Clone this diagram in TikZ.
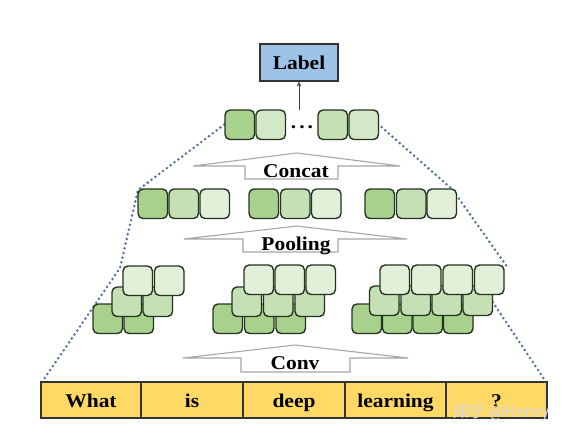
\documentclass[tikz,border=0pt]{standalone}
\usepackage{fontspec}
\setmainfont{Liberation Serif}[FakeStretch=1.1]
\newfontfamily\cjkfont{Noto Sans CJK SC}
\usetikzlibrary{arrows.meta}
\definecolor{gA}{HTML}{A9D18E}
\definecolor{gB}{HTML}{C5E0B4}
\definecolor{gC}{HTML}{E2F0D9}
\definecolor{gBC}{HTML}{D3E8C6}
\definecolor{sqline}{HTML}{24331F}
\definecolor{dotblue}{HTML}{4F6F98}
\definecolor{arrgray}{HTML}{A6A6A6}
\definecolor{wordfill}{HTML}{FFD966}
\definecolor{labelfill}{HTML}{9DC3E6}
\newcommand\mysq[4]{\node[sq,fill=#4] (#1) at (#2+14.75,#3+14.75) {};}
\begin{document}
\begin{tikzpicture}[x=1pt,y=-1pt,
  sq/.style={draw=sqline, line width=1.4pt, rounded corners=5pt, minimum width=29.5pt, minimum height=29.5pt, inner sep=0pt, outer sep=0pt},
  bigtxt/.style={font=\fontsize{19.5}{20}\selectfont\bfseries},
  wordcell/.style={draw=black!80, line width=1.2pt, fill=wordfill, minimum height=36pt, inner sep=0pt, outer sep=0pt, text height=14pt, text depth=0pt, bigtxt},
  fatarrow/.style={draw=arrgray, line width=1.1pt, fill=white, line join=miter},
  dotline/.style={draw=dotblue, line width=2.8pt, line cap=round, dash pattern=on 0pt off 4.8pt}
]
\useasboundingbox (0,0) rectangle (573,440);

% dotted outline (behind everything)
\coordinate (dl0) at (42,382);
\coordinate (dl1) at (120,268);
\coordinate (dl2) at (138,190);
\coordinate (dl3) at (225,124);
\coordinate (dr3) at (378,124);
\coordinate (dr2) at (452,189);
\coordinate (dr1) at (508,268);
\coordinate (dr1b) at (482,286);
\coordinate (dr0) at (546,382);
\draw[dotline] (dl0) -- (dl1) -- (dl2) -- (dl3);
\draw[dotline] (dr3) -- (dr2) -- (dr1);
\draw[dotline] (dr0) -- (dr1b);

% fat arrows
\draw[fatarrow] (193,166) -- (297,153) -- (400,166) -- (338,166) -- (338,179) -- (245,179) -- (245,166) -- cycle;
\draw[fatarrow] (184,239) -- (297,226) -- (407,239) -- (338,239) -- (338,252) -- (243,252) -- (243,239) -- cycle;
\draw[fatarrow] (183,358) -- (295,345) -- (408,358) -- (350,358) -- (350,372) -- (241,372) -- (241,358) -- cycle;
\node[bigtxt, anchor=base] (tconcat) at (296,177) {Concat};
\node[bigtxt, anchor=base] (tpool) at (296,250) {Pooling};
\node[bigtxt, anchor=base] (tconv) at (295,369) {Conv};

% conv feature maps: left group
\mysq{cl1}{93}{304}{gA}  \mysq{cl2}{124}{304}{gA}
\mysq{cl3}{112}{287}{gB} \mysq{cl4}{143}{287}{gB}
\mysq{cl5}{123}{266}{gC} \mysq{cl6}{154.5}{266}{gC}
% middle group
\mysq{cm1}{213}{304}{gA} \mysq{cm2}{244.5}{304}{gA} \mysq{cm3}{276}{304}{gA}
\mysq{cm4}{232}{287}{gB} \mysq{cm5}{263.5}{287}{gB} \mysq{cm6}{295}{287}{gB}
\mysq{cm7}{244}{265}{gC} \mysq{cm8}{275}{265}{gC} \mysq{cm9}{306}{265}{gC}
% right group
\mysq{cr1}{352}{304}{gA} \mysq{cr2}{382.5}{304}{gA} \mysq{cr3}{413}{304}{gA} \mysq{cr4}{443.5}{304}{gA}
\mysq{cr5}{369.5}{286}{gB} \mysq{cr6}{401}{286}{gB} \mysq{cr7}{432}{286}{gB} \mysq{cr8}{463}{286}{gB}
\mysq{cr9}{380}{265}{gC} \mysq{cr10}{411.5}{265}{gC} \mysq{cr11}{443}{265}{gC} \mysq{cr12}{474.5}{265}{gC}

% pooling outputs
\mysq{p1}{138}{189}{gA} \mysq{p2}{169}{189}{gB} \mysq{p3}{200}{189}{gC}
\mysq{p4}{249}{189}{gA} \mysq{p5}{280.5}{189}{gB} \mysq{p6}{311.5}{189}{gC}
\mysq{p7}{365}{189}{gA} \mysq{p8}{396.5}{189}{gB} \mysq{p9}{427}{189}{gC}

% concat outputs
\mysq{t1}{225}{110}{gA} \mysq{t2}{256}{110}{gBC}
\mysq{t3}{318}{110}{gB} \mysq{t4}{349}{110}{gBC}
\node[bigtxt, anchor=base] (dots) at (302,128) {.\kern3pt.\kern3pt.};

% label
\node[draw=black!80, line width=1.2pt, fill=labelfill, minimum width=78pt, minimum height=37pt, inner sep=0pt, text height=13pt, text depth=0pt, bigtxt] (label) at (299,62.5) {Label};
\coordinate (lblfoot) at (299,110);
\draw[-{Stealth[length=5pt,width=4.5pt]}, line width=0.8pt, draw=black!75] (lblfoot) -- (label.south);

% input words
\node[wordcell, minimum width=100pt] (w1) at (91,400) {What};
\node[wordcell, minimum width=102pt] (w2) at (192,400) {is};
\node[wordcell, minimum width=102pt] (w3) at (294,400) {deep};
\node[wordcell, minimum width=101pt] (w4) at (395.5,400) {learning};
\node[wordcell, minimum width=101pt] (w5) at (496.5,400) {?};

% watermark
\node[anchor=base west, inner sep=0pt, text=white!86!black, font=\cjkfont\fontsize{16}{16}\selectfont] (wm) at (453,417) {知乎 @Henry};
\end{tikzpicture}
\end{document}
